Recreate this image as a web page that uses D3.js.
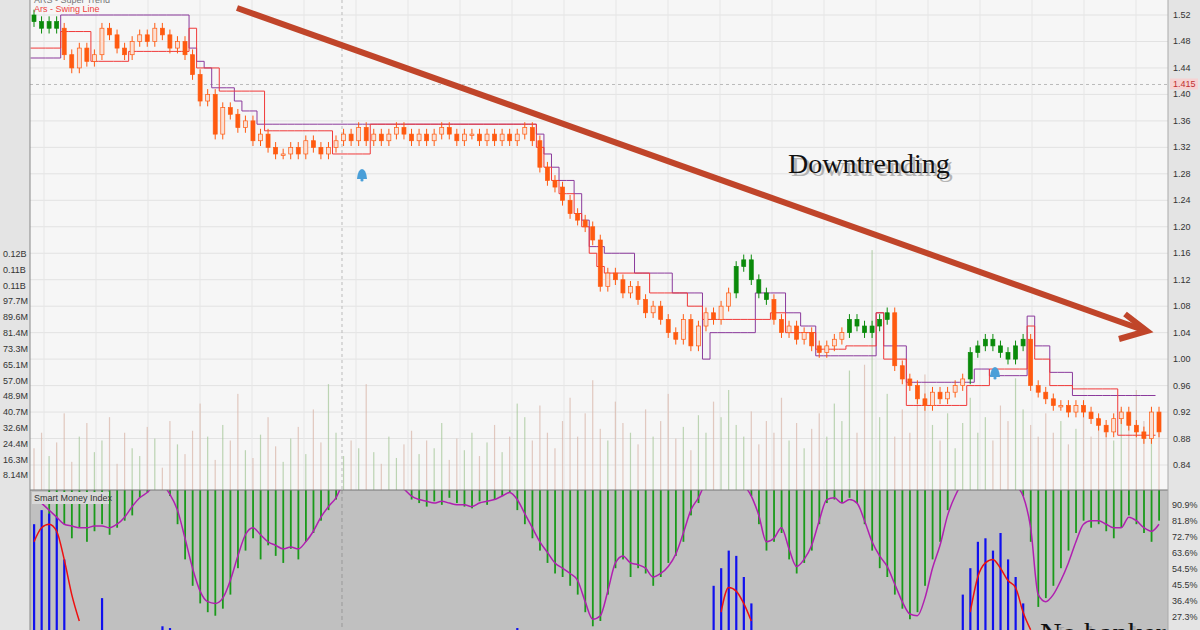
<!DOCTYPE html>
<html><head><meta charset="utf-8">
<script src="https://cdn.jsdelivr.net/npm/d3@7"></script>
<style>body{margin:0;background:#fff}svg{display:block}</style></head>
<body><svg id="c" width="1200" height="630"></svg>
<script>
const closes=[1.51,1.50,1.51,1.50,
1.46,1.44,1.47,1.45,1.46,
1.50,1.49,1.47,1.46,
1.48,1.49,1.48,1.50,1.49,1.47,1.48,1.46,
1.43,1.39,1.40,1.34,
1.38,1.37,1.35,1.36,1.33,1.34,
1.32,1.31,1.31,1.32,1.31,1.33,1.32,1.31,
1.32,1.33,1.34,1.33,1.35,1.33,
1.34,1.33,1.34,1.35,1.34,1.33,1.34,1.33,1.34,1.35,1.34,1.33,1.34,1.34,1.33,1.34,1.33,1.34,1.33,1.34,1.35,1.33,
1.29,1.27,1.26,1.24,1.22,1.21,
1.20,1.18,1.11,1.13,
1.12,1.10,1.11,1.09,1.07,1.08,1.06,
1.04,1.03,1.06,1.02,1.05,
1.07,1.06,1.08,1.10,
1.14,1.15,1.12,1.10,1.09,
1.06,1.04,1.05,1.03,1.04,1.02,
1.01,1.02,1.03,1.04,
1.06,1.05,1.04,1.05,1.06,1.07,
0.99,0.97,0.96,0.94,0.93,0.95,
0.94,0.95,0.96,0.97,
1.01,1.02,1.03,1.02,1.01,1.00,1.02,1.03,
0.96,0.95,0.94,0.93,0.93,0.92,
0.93,0.92,0.91,0.90,0.89,0.91,
0.92,0.90,0.89,0.88,0.92,0.89];
const upRanges=[[0,3],[93,97],[108,113],[124,131]];
const superTrendRuns=[[1.455,4],[1.52,17],[1.47,1],[1.45,1],[1.44,1],[1.41,3],[1.39,1],[1.375,2],[1.355,37],[1.34,1],[1.31,1],[1.29,1],[1.27,2],[1.25,1],[1.21,1],[1.17,2],[1.16,4],[1.13,5],[1.10,4],[1.00,1],[1.04,6],[1.10,4],[1.07,2],[1.05,2],[1.005,8],[1.07,1],[1.02,3],[0.965,9],[0.985,2],[0.975,5],[1.065,1],[1.02,2],[0.98,3],[0.945,12]];
const swingRuns=[[1.47,4],[1.495,4],[1.45,5],[1.465,8],[1.50,1],[1.44,3],[1.405,6],[1.345,9],[1.31,5],[1.355,22],[1.32,1],[1.29,1],[1.27,1],[1.25,2],[1.22,1],[1.20,1],[1.16,1],[1.14,1],[1.13,6],[1.10,5],[1.08,2],[1.06,4],[1.06,5],[1.07,2],[1.04,4],[1.015,4],[1.02,4],[1.07,1],[1.00,3],[0.93,8],[0.96,3],[0.985,5],[1.05,1],[1.00,2],[0.96,3],[0.955,6],[0.885,6]];
const volumes=[22,30,18,25,40,15,28,35,20,26,38,14,30,22,18,33,27,12,36,24,19,31,45,28,16,34,26,50,21,17,29,38,23,15,27,33,19,42,25,55,30,18,26,22,55,20,14,28,17,24,31,19,26,22,35,16,27,21,30,18,25,34,20,28,45,38,26,44,30,22,36,48,28,40,57,32,26,46,35,30,24,42,28,36,50,27,33,21,39,30,46,38,52,34,28,41,24,36,30,48,26,35,22,32,40,28,45,36,62,30,65,124,38,50,28,42,30,55,60,34,26,40,22,35,48,30,38,26,44,36,58,42,34,28,40,30,36,24,32,46,28,38,30,26,42,34,52,36,40,30];
const smiGreen=[100,100,82,75,80,72,78,70,76,80,74,78,82,85,
95,98,100,100,96,
80,60,45,35,30,28,32,40,55,65,72,60,68,62,58,66,60,70,75,82,88,94,
100,100,100,100,100,100,100,100,100,
94,92,90,93,91,95,92,90,89,93,91,94,96,98,
88,80,72,65,58,52,50,45,40,30,22,25,40,55,60,50,55,52,45,50,58,62,70,85,92,
100,100,100,100,100,100,
96,80,65,70,75,60,52,58,65,80,92,
94,92,95,
92,80,65,55,50,40,32,26,30,45,60,
70,88,100,100,100,
100,100,100,100,100,100,96,
70,33,38,45,55,65,75,82,78,80,
76,72,78,85,80,75,70,82];
const smiPurple=[96,92,88,84,80,79,78,78,79,79,78,80,84,90,
95,98,102,102,97,
88,72,55,42,36,35,38,48,62,74,78,74,70,68,66,67,66,70,76,84,90,95,
103,104,104,104,104,104,104,103,100,
96,94,93,92,93,92,91,91,90,92,93,94,96,98,
94,86,78,70,64,58,55,52,48,36,26,28,42,58,62,58,57,55,50,52,56,63,75,88,95,
103,104,104,104,104,102,
96,85,70,72,78,66,56,60,68,82,94,
95,92,94,
92,82,70,62,56,46,36,29,28,38,55,
68,85,96,103,104,
104,104,104,104,104,102,96,
78,40,36,40,48,58,70,80,82,82,
80,78,78,84,82,78,76,80];
const blueIdx=[0,1,2,3,4,9,17,18,64,90,91,92,93,94,95,123,124,125,126,127,128,129,130,131];
const blueVal=[80,88,86,84,60,38,22,21,21,45,55,65,62,50,35,40,55,70,72,65,75,60,50,35];
const redIdx=[0,1,2,3,4,5,6,null,91,92,93,94,95,null,124,125,126,127,128,129,130,131,132];
const redVal=[70,78,80,76,60,40,25,null,30,44,42,35,25,null,30,50,58,60,55,48,44,30,20];
const priceTicks=[1.52,1.48,1.44,1.40,1.36,1.32,1.28,1.24,1.20,1.16,1.12,1.08,1.04,1.00,0.96,0.92,0.88,0.84];
const volTickLabels=["0.12B","0.11B","0.11B","97.7M","89.6M","81.4M","73.3M","65.1M","57.0M","48.9M","40.7M","32.6M","24.4M","16.3M","8.14M"];
const pctTicks=["90.9%","81.8%","72.7%","63.6%","54.5%","45.5%","36.4%","27.3%","18.2%"];

const expand=r=>r.flatMap(([v,n])=>Array(n).fill(v));
const superT=expand(superTrendRuns), swing=expand(swingRuns);
const isUp=i=>upRanges.some(([a,b])=>i>=a&&i<=b);

const svg=d3.select("#c");
const L=30,R=1168,MB=490,B=630;
const x=d3.scaleLinear().domain([0,closes.length-1]).range([34,1159]);
const y=d3.scaleLinear().domain([0.84,1.52]).range([465,15]);
const yv=d3.scaleLinear().domain([0,122]).range([491,254]);
const yp=d3.scaleLinear().domain([100,0]).range([489,665]);

svg.append("rect").attr("width",1200).attr("height",630).attr("fill","#e4e4e4");
svg.append("rect").attr("x",L).attr("y",0).attr("width",R-L).attr("height",MB).attr("fill","#f6f6f6");
const defs=svg.append("defs");
defs.append("clipPath").attr("id","cm").append("rect").attr("x",L).attr("y",0).attr("width",R-L).attr("height",MB);
defs.append("clipPath").attr("id","cb").append("rect").attr("x",L).attr("y",MB).attr("width",R-L).attr("height",B-MB);
const gm=svg.append("g").attr("clip-path","url(#cm)");
priceTicks.forEach(t=>gm.append("line").attr("x1",L).attr("x2",R).attr("y1",y(t)).attr("y2",y(t)).attr("stroke","#e2e2e2"));
d3.range(44,R,52).forEach(v=>gm.append("line").attr("x1",v).attr("x2",v).attr("y1",0).attr("y2",MB).attr("stroke","#e6e6e6"));
gm.append("line").attr("x1",L).attr("x2",R).attr("y1",y(1.415)).attr("y2",y(1.415)).attr("stroke","#bbb").attr("stroke-dasharray","3,3");
gm.append("line").attr("x1",342).attr("x2",342).attr("y1",0).attr("y2",MB).attr("stroke","#bbb").attr("stroke-dasharray","3,3");
const opens=closes.map((c,i)=>i?closes[i-1]:1.52);
gm.selectAll(".v").data(volumes).join("rect").attr("x",(d,i)=>x(i)-0.6).attr("width",1.2)
 .attr("y",d=>yv(d)).attr("height",d=>yv(0)-yv(d))
 .attr("fill",(d,i)=>closes[i]>=opens[i]?"#a8c89c":"#d9b8ac").attr("opacity",0.75);
const ln=d3.line().x((d,i)=>x(i)-3.5).y(d=>y(d)).curve(d3.curveStepAfter);
gm.append("path").attr("d",ln(superT)).attr("fill","none").attr("stroke","#8b3a9c").attr("stroke-width",1);
gm.append("path").attr("d",ln(swing)).attr("fill","none").attr("stroke","#f03a3a").attr("stroke-width",1);
closes.forEach((c,i)=>{
 const o=opens[i],col=isUp(i)?"#0a8a0a":"#ff5a10";
 const hi=Math.max(o,c)+0.008,lo=Math.min(o,c)-0.008;
 gm.append("line").attr("x1",x(i)).attr("x2",x(i)).attr("y1",y(hi)).attr("y2",y(lo)).attr("stroke",col).attr("stroke-width",1);
 const filled=isUp(i)||c<o;
 gm.append("rect").attr("x",x(i)-2).attr("width",4).attr("y",y(Math.max(o,c))).attr("height",Math.max(1.5,Math.abs(y(o)-y(c))))
  .attr("fill",filled?col:"#fbe0d4").attr("stroke",col).attr("stroke-width",0.7);
});
[[362,175],[995,373]].forEach(([bx,by])=>{
 gm.append("path").attr("d",`M${bx-5},${by+4} Q${bx-4},${by-6} ${bx},${by-6} Q${bx+4},${by-6} ${bx+5},${by+4} Z`).attr("fill","#4a9fd8");
 gm.append("circle").attr("cx",bx).attr("cy",by+5).attr("r",1.6).attr("fill","#4a9fd8");
});
gm.append("text").attr("x",34).attr("y",3).attr("font-family","Liberation Sans").attr("font-size",9).attr("fill","#777").text("ARS - Super Trend");
gm.append("text").attr("x",34).attr("y",12).attr("font-family","Liberation Sans").attr("font-size",9).attr("fill","#f04040").text("Ars - Swing Line");

svg.append("rect").attr("x",L).attr("y",MB).attr("width",R-L).attr("height",B-MB).attr("fill","#c0c0c0");
const gb=svg.append("g").attr("clip-path","url(#cb)");
gb.selectAll(".g").data(smiGreen).join("rect").attr("x",(d,i)=>x(i)-0.8).attr("width",1.8).attr("y",MB)
 .attr("height",d=>Math.max(0,yp(d)-MB)).attr("fill","#1a9a1a");
gb.selectAll(".b").data(blueIdx).join("rect").attr("x",i=>x(i)-1).attr("width",2.2)
 .attr("y",(d,k)=>yp(blueVal[k])).attr("height",(d,k)=>B-yp(blueVal[k])).attr("fill","#1010ee");
gb.append("path").attr("d",d3.line().x((d,i)=>x(i)).y(d=>yp(d)).curve(d3.curveMonotoneX)(smiPurple)).attr("fill","none").attr("stroke","#b020b0").attr("stroke-width",1.5);
gb.append("path").attr("d",d3.line().defined(d=>d!==null).x((d,k)=>x(redIdx[k])).y(d=>yp(d)).curve(d3.curveMonotoneX)(redVal)).attr("fill","none").attr("stroke","#ee1010").attr("stroke-width",1.5);
gb.append("line").attr("x1",342).attr("x2",342).attr("y1",MB).attr("y2",B).attr("stroke","#999").attr("stroke-dasharray","4,3");
svg.append("rect").attr("x",32).attr("y",492).attr("width",77).attr("height",12).attr("fill","#d8d8d8");
svg.append("text").attr("x",34).attr("y",501).attr("font-family","Liberation Sans").attr("font-size",9).attr("fill","#333").text("Smart Money Index");
svg.append("line").attr("x1",L).attr("x2",R).attr("y1",MB).attr("y2",MB).attr("stroke","#777");
svg.append("line").attr("x1",L).attr("x2",L).attr("y1",0).attr("y2",B).attr("stroke","#888");
svg.append("line").attr("x1",R).attr("x2",R).attr("y1",0).attr("y2",B).attr("stroke","#aaa");

const ax=svg.append("g").attr("font-family","Liberation Sans, Arial").attr("font-size",9).attr("fill","#333");
priceTicks.forEach(t=>ax.append("text").attr("x",1173).attr("y",y(t)+3).text(t.toFixed(2)));
ax.append("rect").attr("x",1170).attr("y",y(1.415)-6).attr("width",28).attr("height",11).attr("fill","#f6d2d2");
ax.append("text").attr("x",1173).attr("y",y(1.415)+3).attr("fill","#c03030").text("1.415");
volTickLabels.forEach((t,k)=>ax.append("text").attr("x",3).attr("y",yv(122-k*8.14)+3).text(t));
pctTicks.forEach((t,k)=>ax.append("text").attr("x",1172).attr("y",yp(90.9-k*9.09)+3).text(t));

const ann=svg.append("g").attr("stroke","#c0452a").attr("stroke-width",6).attr("fill","none");
ann.append("line").attr("x1",237).attr("y1",8).attr("x2",1146).attr("y2",331);
ann.append("path").attr("d","M1125,314 L1147,331 L1119,339");
const txt=(s,xx,yy,fs)=>{
 svg.append("text").attr("x",xx+3).attr("y",yy+3).attr("font-family","Liberation Serif, DejaVu Serif").attr("font-size",fs).attr("fill","#9a9a9a").attr("opacity",0.7).text(s);
 svg.append("text").attr("x",xx).attr("y",yy).attr("font-family","Liberation Serif, DejaVu Serif").attr("font-size",fs).attr("fill","#111").text(s);
};
txt("Downtrending",788,173,28);
txt("No banker",1040,643,30);
</script></body></html>
